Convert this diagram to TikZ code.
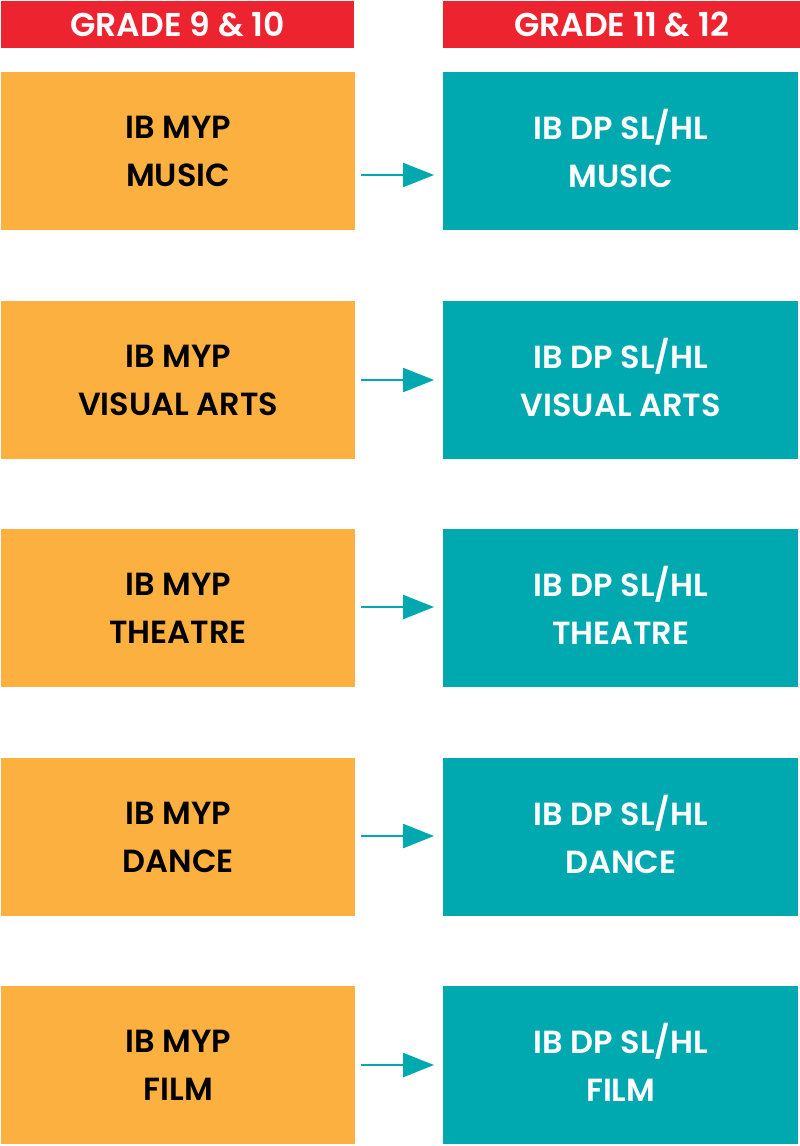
\documentclass[tikz,border=0pt]{standalone}
\usepackage{fontspec}
\setmainfont{Poppins}[UprightFont=* SemiBold, BoldFont=* SemiBold]
\usetikzlibrary{arrows.meta}
\definecolor{hdrred}{HTML}{ED2330}
\definecolor{boxorange}{HTML}{FBB040}
\definecolor{boxteal}{HTML}{00A8B0}
\newcommand{\capstrut}{\rule[-0.15em]{0pt}{1em}}
\tikzset{
  hdr/.style={fill=hdrred, text=white, minimum width=353pt, minimum height=47pt, inner sep=0pt, font=\fontsize{33}{35}\selectfont, anchor=north west},
  mypbox/.style={fill=boxorange, text=black, minimum width=354pt, minimum height=158pt, inner sep=0pt, align=center, font=\fontsize{32}{48}\selectfont, anchor=north west},
  dpbox/.style={fill=boxteal, text=white, minimum width=355pt, minimum height=158pt, inner sep=0pt, align=center, font=\fontsize{32}{48}\selectfont, anchor=north west},
  conn/.style={draw=boxteal, line width=2.5pt, -{Triangle[length=31pt,width=24pt]}, shorten >=9pt, shorten <=6pt}
}
\begin{document}
\begin{tikzpicture}[x=1pt,y=-1pt]
\useasboundingbox (0,0) rectangle (800,1146);
\node[hdr] (h1) at (1,1) {\capstrut GRADE 9 \& 10};
\node[hdr, minimum width=357pt] (h2) at (443,1) {\capstrut GRADE 11 \& 12};
\foreach \i/\y/\name/\ay in {1/72/MUSIC/175, 2/301/VISUAL ARTS/380, 3/529/THEATRE/607, 4/758/DANCE/836, 5/986/FILM/1065} {
  \node[mypbox] (m\i) at (1,\y) {\capstrut IB MYP\\\capstrut\name};
  \node[dpbox] (d\i) at (443,\y) {\capstrut IB DP SL/HL\\\capstrut\name};
  \coordinate (a\i) at (355,\ay);
  \coordinate (b\i) at (443,\ay);
  \draw[conn] (a\i) -- (b\i);
}
\end{tikzpicture}
\end{document}
